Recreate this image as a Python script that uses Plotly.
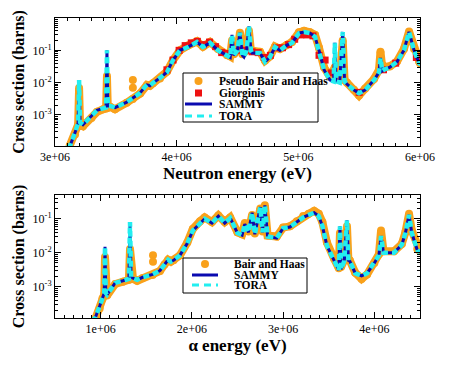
import plotly.graph_objects as go

# ---------------- top panel: neutron energy ----------------
n_energy_mev = [3.10, 3.123, 3.164, 3.19, 3.198, 3.206, 3.23, 3.30, 3.345, 3.395, 3.42, 3.427, 3.434,
                3.452, 3.493, 3.59, 3.64, 3.70, 3.74, 3.756, 3.78, 3.805, 3.863, 3.92, 3.97, 4.027,
                4.093, 4.167, 4.216, 4.274, 4.34, 4.414, 4.44, 4.455, 4.47, 4.50, 4.52, 4.54, 4.553,
                4.575, 4.594, 4.61, 4.62, 4.685, 4.726, 4.767, 4.808, 4.849, 4.907, 4.948, 5.005,
                5.047, 5.096, 5.137, 5.17, 5.211, 5.26, 5.29, 5.30, 5.31, 5.34, 5.365, 5.38, 5.40,
                5.457, 5.499, 5.548, 5.622, 5.663, 5.675, 5.69, 5.704, 5.753, 5.811, 5.868, 5.91,
                5.951, 5.992, 6.02]
n_sammy_xs = [1.0e-4, 1.1e-4, 2.8e-4, 5.6e-4, 1.2e-2, 6e-4, 5e-4, 9e-4, 1.4e-3, 1.6e-3, 1.7e-3, 0.1, 1.9e-3,
              1.9e-3, 1.7e-3, 2.5e-3, 3.3e-3, 4.8e-3, 7.5e-3, 8.5e-3, 8.0e-3, 9.8e-3, 1.4e-2, 2.1e-2, 5.0e-2, 0.10,
              0.126, 0.18, 0.126, 0.17, 0.10, 0.07, 0.06, 0.3, 0.07, 0.10, 0.35, 0.07, 0.062,
              0.10, 0.55, 0.10, 0.083, 0.083, 0.044, 0.062, 0.126, 0.10, 0.145, 0.17, 0.34,
              0.37, 0.34, 0.26, 0.10, 0.025, 0.012, 0.011, 0.17, 0.011, 0.010, 0.37, 0.011, 9e-3,
              5.9e-3, 4.7e-3, 5.9e-3, 0.012, 0.021, 0.058, 0.023, 0.025, 0.03, 0.044, 0.10, 0.37,
              0.10, 0.04, 0.035]
n_tora_xs = list(n_sammy_xs)

n_bh_energy_mev = [3.12, 3.165, 3.19, 3.198, 3.206, 3.23, 3.30, 3.345, 3.395, 3.42, 3.427, 3.434, 3.452,
                   3.493, 3.59, 3.64, 3.70, 3.756, 3.78, 3.805, 3.863, 3.92, 3.97, 4.027, 4.093, 4.167,
                   4.216, 4.274, 4.34, 4.414, 4.44, 4.455, 4.47, 4.50, 4.52, 4.54, 4.575, 4.594, 4.61,
                   4.685, 4.726, 4.767, 4.808, 4.849, 4.907, 4.948, 5.005, 5.047, 5.096, 5.137, 5.17,
                   5.211, 5.26, 5.30, 5.34, 5.365, 5.38, 5.40, 5.457, 5.499, 5.548, 5.622, 5.663, 5.675,
                   5.69, 5.753, 5.811, 5.868, 5.91, 5.951, 5.992, 6.0]
n_bh_xs = [1.1e-4, 2.5e-4, 5e-4, 6.8e-3, 5e-4, 4.5e-4, 8e-4, 1.25e-3, 1.5e-3, 1.6e-3, 0.016, 1.7e-3, 1.8e-3,
           1.5e-3, 2.4e-3, 3.1e-3, 4.6e-3, 8.5e-3, 8e-3, 9.5e-3, 1.35e-2, 2.2e-2, 5e-2, 0.10, 0.14, 0.19,
           0.13, 0.18, 0.11, 0.07, 0.065, 0.2, 0.075, 0.1, 0.35, 0.075, 0.1, 0.4, 0.1,
           0.09, 0.048, 0.065, 0.13, 0.11, 0.15, 0.18, 0.36, 0.40, 0.36, 0.30, 0.12,
           0.03, 0.015, 0.03, 0.012, 0.2, 0.012, 0.010, 6e-3, 4e-3, 6.5e-3, 0.013, 0.025, 0.09,
           0.03, 0.032, 0.045, 0.11, 0.38, 0.11, 0.045, 0.04]
n_bh_extra_energy_mev = [3.64, 3.64]
n_bh_extra_xs = [0.012, 0.007]

n_giorginis_energy_mev = [3.92, 3.97, 4.02, 4.07, 4.12, 4.17, 4.22, 4.27, 4.32, 4.37, 4.42, 4.47, 4.52,
                          4.57, 4.62, 4.67, 4.72, 4.77, 4.82, 4.87, 4.92, 4.97, 5.02, 5.07, 5.12, 5.17,
                          5.22, 5.27, 5.50, 5.70, 5.80, 5.97, 6.0]
n_giorginis_xs = [0.025, 0.05, 0.10, 0.14, 0.17, 0.19, 0.15, 0.18, 0.13, 0.085, 0.08, 0.09, 0.10,
                  0.10, 0.09, 0.085, 0.06, 0.07, 0.12, 0.12, 0.15, 0.22, 0.30, 0.30, 0.28, 0.07,
                  0.05, 0.02, 5e-3, 0.025, 0.04, 0.06, 0.06]

# ---------------- bottom panel: alpha energy ----------------
a_energy_mev = [0.90, 0.94, 0.99, 1.02, 1.04, 1.048, 1.056, 1.07, 1.16, 1.245, 1.31, 1.322, 1.334, 1.355,
                1.40, 1.46, 1.57, 1.65, 1.70, 1.74, 1.77, 1.80, 1.87, 1.95, 2.01, 2.09, 2.14, 2.22,
                2.29, 2.36, 2.42, 2.50, 2.55, 2.58, 2.62, 2.66, 2.69, 2.75, 2.775, 2.80, 2.83, 2.93,
                3.00, 3.075, 3.15, 3.22, 3.28, 3.34, 3.39, 3.43, 3.48, 3.56, 3.61, 3.623, 3.635,
                3.67, 3.70, 3.715, 3.73, 3.79, 3.86, 3.92, 4.00, 4.05, 4.073, 4.10, 4.215, 4.30,
                4.34, 4.38, 4.41, 4.47, 4.50]
a_sammy_xs = [1.0e-4, 1.2e-4, 2.7e-4, 5e-4, 6.5e-4, 0.015, 6.5e-4, 5.8e-4, 1.3e-3, 1.5e-3, 1.7e-3, 0.08, 1.9e-3, 1.8e-3,
              1.6e-3, 1.9e-3, 2.3e-3, 3.0e-3, 4.5e-3, 6.2e-3, 5.5e-3, 6.0e-3, 8.5e-3, 0.019, 0.045, 0.076, 0.10, 0.075,
              0.12, 0.075, 0.105, 0.038, 0.033, 0.07, 0.04, 0.15, 0.035, 0.22, 0.04, 0.25, 0.03, 0.027,
              0.053, 0.057, 0.08, 0.11, 0.13, 0.15, 0.12, 0.062, 0.016, 5.7e-3, 3.1e-3, 0.06, 3.3e-3,
              5.7e-3, 0.09, 6e-3, 5.7e-3, 2.5e-3, 2.1e-3, 2.5e-3, 5e-3, 8.5e-3, 0.031, 0.01, 0.01, 0.017,
              0.038, 0.13, 0.038, 0.012, 0.01]
a_tora_xs = list(a_sammy_xs)

a_bh_energy_mev = [0.94, 0.99, 1.02, 1.04, 1.048, 1.056, 1.07, 1.16, 1.245, 1.31, 1.322, 1.334, 1.355,
                   1.40, 1.46, 1.57, 1.65, 1.70, 1.74, 1.77, 1.80, 1.87, 1.95, 2.01, 2.09, 2.14, 2.22,
                   2.29, 2.36, 2.42, 2.50, 2.55, 2.58, 2.62, 2.66, 2.69, 2.75, 2.775, 2.80, 2.83, 2.93,
                   3.00, 3.075, 3.15, 3.22, 3.28, 3.34, 3.39, 3.43, 3.48, 3.56, 3.61, 3.623, 3.635,
                   3.67, 3.70, 3.715, 3.73, 3.79, 3.86, 3.92, 4.00, 4.05, 4.073, 4.10, 4.215, 4.30,
                   4.34, 4.38, 4.41, 4.47, 4.50]
a_bh_xs = [1.1e-4, 2.3e-4, 4.5e-4, 6e-4, 7.5e-3, 6e-4, 5.5e-4, 1.2e-3, 1.4e-3, 1.6e-3, 0.013, 1.8e-3, 1.7e-3,
           1.5e-3, 1.8e-3, 2.2e-3, 2.9e-3, 4.5e-3, 6.2e-3, 5.5e-3, 6e-3, 8.5e-3, 0.02, 0.05, 0.085, 0.11, 0.08,
           0.125, 0.08, 0.11, 0.04, 0.035, 0.075, 0.042, 0.13, 0.037, 0.2, 0.042, 0.25, 0.032, 0.03,
           0.055, 0.06, 0.085, 0.12, 0.14, 0.17, 0.14, 0.08, 0.02, 6.5e-3, 3.5e-3, 0.038, 3.8e-3,
           6e-3, 0.06, 6.5e-3, 6e-3, 2.6e-3, 1.7e-3, 2.3e-3, 5e-3, 9e-3, 0.045, 0.011, 0.011, 0.018,
           0.04, 0.14, 0.045, 0.013, 0.011]
a_bh_extra_energy_mev = [1.574, 1.574]
a_bh_extra_xs = [8.5e-3, 5.4e-3]

# tick labels
n_xtick_vals = [3e6, 4e6, 5e6, 6e6]
n_xtick_text = ["3e+06", "4e+06", "5e+06", "6e+06"]
a_xtick_vals = [1e6, 2e6, 3e6, 4e6]
a_xtick_text = ["1e+06", "2e+06", "3e+06", "4e+06"]
ytick_vals = [1e-3, 1e-2, 1e-1]
ytick_text = ["10<sup>-3</sup>", "10<sup>-2</sup>", "10<sup>-1</sup>"]

top_legend_names = ["Pseudo Bair and Haas", "Giorginis", "SAMMY", "TORA"]
bottom_legend_names = ["Bair and Haas", "SAMMY", "TORA"]

ORANGE = "#f9a11b"
RED = "#ee1111"
BLUE = "#0a0ab0"
CYAN = "#22eef0"
FONT = "Liberation Serif, Times New Roman, Times, serif"

# the page body adds an 8px offset; positions below are given in page pixels
OFF = 8
W, H = 474, 366
ML, MT = 55 - OFF, 18 - OFF
PW, PH = 365, 300
MR, MB = W - ML - PW, H - MT - PH


def ev(mev_list):
    return [v * 1e6 for v in mev_list]


def px_x(px):
    return (px - OFF - ML) / PW


def px_y(py):
    return (H - MB - (py - OFF)) / PH


fig = go.Figure()


def add_panel(xa, ya, e_bh, s_bh, e_ex, s_ex, e_curve, s_sammy, s_tora, e_g=None, s_g=None):
    fig.add_trace(go.Scatter(x=ev(e_bh), y=s_bh, mode="lines", xaxis=xa, yaxis=ya,
                             line=dict(color=ORANGE, width=8), showlegend=False, hoverinfo="skip"))
    fig.add_trace(go.Scatter(x=ev(e_bh + e_ex), y=s_bh + s_ex, mode="markers", xaxis=xa, yaxis=ya,
                             marker=dict(color=ORANGE, size=8, symbol="circle"), showlegend=False))
    if e_g is not None:
        fig.add_trace(go.Scatter(x=ev(e_g), y=s_g, mode="markers", xaxis=xa, yaxis=ya,
                                 marker=dict(color=RED, size=7, symbol="square"), showlegend=False))
    fig.add_trace(go.Scatter(x=ev(e_curve), y=s_sammy, mode="lines", xaxis=xa, yaxis=ya,
                             line=dict(color=BLUE, width=3), showlegend=False))
    fig.add_trace(go.Scatter(x=ev(e_curve), y=s_tora, mode="lines", xaxis=xa, yaxis=ya,
                             line=dict(color=CYAN, width=4.5, dash="6px,4px"), showlegend=False))


add_panel("x", "y", n_bh_energy_mev, n_bh_xs, n_bh_extra_energy_mev, n_bh_extra_xs,
          n_energy_mev, n_sammy_xs, n_tora_xs, n_giorginis_energy_mev, n_giorginis_xs)
add_panel("x2", "y2", a_bh_energy_mev, a_bh_xs, a_bh_extra_energy_mev, a_bh_extra_xs,
          a_energy_mev, a_sammy_xs, a_tora_xs)

# ---------------- custom compact legends (xmgrace style) ----------------
shapes = []
annotations = []


def legend_box(x0, y0, x1, y1, rows, names, kinds, sym_x0, sym_x1, text_x):
    shapes.append(dict(type="rect", xref="paper", yref="paper", x0=px_x(x0), x1=px_x(x1),
                       y0=px_y(y1), y1=px_y(y0), line=dict(color="black", width=1),
                       fillcolor="white", layer="above"))
    cx = (sym_x0 + sym_x1) / 2
    for ry, name, kind in zip(rows, names, kinds):
        if kind == "circle":
            shapes.append(dict(type="circle", xref="paper", yref="paper",
                               x0=px_x(cx - 4), x1=px_x(cx + 4), y0=px_y(ry + 4), y1=px_y(ry - 4),
                               fillcolor=ORANGE, line=dict(width=0), layer="above"))
        elif kind == "square":
            shapes.append(dict(type="rect", xref="paper", yref="paper",
                               x0=px_x(cx - 3.5), x1=px_x(cx + 3.5), y0=px_y(ry + 3.5),
                               y1=px_y(ry - 3.5), fillcolor=RED, line=dict(width=0), layer="above"))
        elif kind == "solid":
            shapes.append(dict(type="line", xref="paper", yref="paper",
                               x0=px_x(sym_x0), x1=px_x(sym_x1), y0=px_y(ry), y1=px_y(ry),
                               line=dict(color=BLUE, width=3), layer="above"))
        else:
            shapes.append(dict(type="line", xref="paper", yref="paper",
                               x0=px_x(sym_x0), x1=px_x(sym_x1), y0=px_y(ry), y1=px_y(ry),
                               line=dict(color=CYAN, width=3, dash="7px,5px"), layer="above"))
        annotations.append(dict(xref="paper", yref="paper", x=px_x(text_x), y=px_y(ry),
                                xanchor="left", yanchor="middle", showarrow=False,
                                text="<b>%s</b>" % name, borderpad=0,
                                font=dict(family=FONT, size=11.5, color="black")))


legend_box(183, 73, 318, 122, [81, 93, 104, 116], top_legend_names,
           ["circle", "square", "solid", "dash"], 185, 212, 218)
legend_box(183, 258, 307, 293, [264, 275, 285], bottom_legend_names,
           ["circle", "solid", "dash"], 192, 218, 233)

minor_y = []
for d in [1e-4, 1e-3, 1e-2, 1e-1]:
    for k in range(2, 10):
        minor_y.append(d * k)

axis_common = dict(showline=True, linecolor="black", linewidth=1, mirror="ticks",
                   ticks="inside", ticklen=6, tickcolor="black", showgrid=False, zeroline=False,
                   automargin=False,
                   tickfont=dict(family=FONT, size=12, color="black"))

fig.update_layout(
    width=W, height=H,
    margin=dict(l=ML, r=MR, t=MT, b=MB, autoexpand=False),
    paper_bgcolor="white", plot_bgcolor="white",
    font=dict(family=FONT, color="black"),
    showlegend=False,
    shapes=shapes, annotations=annotations,
    xaxis=dict(domain=[0, 1], anchor="y", range=[3e6, 6e6], tickvals=n_xtick_vals,
               ticktext=n_xtick_text,
               minor=dict(dtick=1e5, ticks="inside", ticklen=3, tickcolor="black"),
               title=dict(text="<b>Neutron energy (eV)</b>", font=dict(family=FONT, size=17),
                          standoff=0),
               **axis_common),
    yaxis=dict(domain=[0.5733, 1], anchor="x", type="log", range=[-3.96, 0],
               tickvals=ytick_vals, ticktext=ytick_text,
               minor=dict(tickvals=minor_y, ticks="inside", ticklen=3, tickcolor="black"),
               title=dict(text="<b>Cross section (barns)</b>", font=dict(family=FONT, size=16),
                          standoff=4),
               **axis_common),
    xaxis2=dict(domain=[0, 1], anchor="y2", range=[0.5e6, 4.5e6], tickvals=a_xtick_vals,
                ticktext=a_xtick_text,
                minor=dict(dtick=1e5, ticks="inside", ticklen=3, tickcolor="black"),
                title=dict(text="<b>\u03b1 energy (eV)</b>", font=dict(family=FONT, size=17),
                           standoff=0),
                **axis_common),
    yaxis2=dict(domain=[0, 0.41], anchor="x2", type="log", range=[-3.92, -0.30],
                tickvals=ytick_vals, ticktext=ytick_text,
                minor=dict(tickvals=minor_y, ticks="inside", ticklen=3, tickcolor="black"),
                title=dict(text="<b>Cross section (barns)</b>", font=dict(family=FONT, size=16),
                           standoff=4),
                **axis_common),
)

fig.write_html("out.html")
